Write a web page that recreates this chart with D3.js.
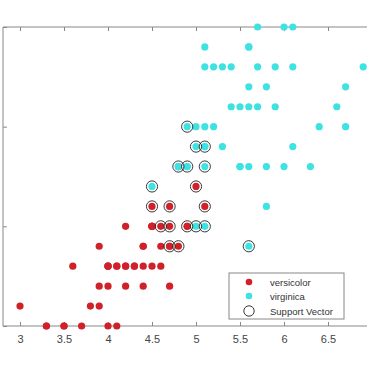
<!DOCTYPE html>
<html><head><meta charset="utf-8">
<script src="https://cdn.jsdelivr.net/npm/d3@7"></script>
<style>body{margin:0;background:#fff;}svg{display:block;}</style>
</head><body>
<script>
const versicolor = [[4.7,1.4],[4.5,1.5],[4.9,1.5],[4.0,1.3],[4.6,1.5],[4.5,1.3],[4.7,1.6],[3.3,1.0],[4.6,1.3],[3.9,1.4],
[3.5,1.0],[4.2,1.5],[4.0,1.0],[4.7,1.4],[3.6,1.3],[4.4,1.4],[4.5,1.5],[4.1,1.0],[4.5,1.5],[3.9,1.1],
[4.8,1.8],[4.0,1.3],[4.9,1.5],[4.7,1.2],[4.3,1.3],[4.4,1.4],[4.8,1.4],[5.0,1.7],[4.5,1.5],[3.5,1.0],
[3.8,1.1],[3.7,1.0],[3.9,1.2],[5.1,1.6],[4.5,1.5],[4.5,1.6],[4.7,1.5],[4.4,1.3],[4.1,1.3],[4.0,1.3],
[4.4,1.2],[4.6,1.4],[4.0,1.2],[3.3,1.0],[4.2,1.3],[4.2,1.2],[4.2,1.3],[4.3,1.3],[3.0,1.1],[4.1,1.3]];
const virginica = [[6.0,2.5],[5.1,1.9],[5.9,2.1],[5.6,1.8],[5.8,2.2],[6.6,2.1],[4.5,1.7],[6.3,1.8],[5.8,1.8],[6.1,2.5],
[5.1,2.0],[5.3,1.9],[5.5,2.1],[5.0,2.0],[5.1,2.4],[5.3,2.3],[5.5,1.8],[6.7,2.2],[6.9,2.3],[5.0,1.5],
[5.7,2.3],[4.9,2.0],[6.7,2.0],[4.9,1.8],[5.7,2.1],[6.0,1.8],[4.8,1.8],[4.9,1.8],[5.6,2.1],[5.8,1.6],
[6.1,1.9],[6.4,2.0],[5.6,2.2],[5.1,1.5],[5.6,1.4],[6.1,2.3],[5.6,2.4],[5.5,1.8],[4.8,1.8],[5.4,2.1],
[5.6,2.4],[5.1,2.3],[5.1,1.9],[5.9,2.3],[5.7,2.5],[5.2,2.3],[5.0,1.9],[5.2,2.0],[5.4,2.3],[5.1,1.8]];
const supportVectors = [[4.5,1.6],[4.7,1.6],[5.1,1.6],[5.0,1.7],[4.6,1.5],[4.7,1.5],[4.9,1.5],[4.7,1.4],[4.8,1.4],[4.8,1.8],
[5.0,1.5],[5.1,1.5],[5.6,1.4],[4.5,1.7],[4.9,1.8],[5.1,1.8],[5.0,1.9],[5.1,1.9],[4.9,2.0]];
const xTicks = [3,3.5,4,4.5,5,5.5,6,6.5];
const yTicks = [1,1.5,2,2.5];
const legendLabels = ["versicolor","virginica","Support Vector"];

(function(){
const W=367,H=367;
const svg=d3.select("body").append("svg").attr("width",W).attr("height",H);
const x=d3.scaleLinear().domain([3,7]).range([20,372]);
const y=d3.scaleLinear().domain([1,2.5]).range([326,27]);
const pLeft=3, pRight=372, pTop=27, pBottom=326;
const axisColor="#888";
const red="#d0212b", cyan="#3fe2e2";

svg.append("line").attr("x1",pLeft).attr("x2",pRight).attr("y1",pBottom).attr("y2",pBottom).attr("stroke",axisColor);
svg.append("line").attr("x1",pLeft).attr("x2",pRight).attr("y1",pTop).attr("y2",pTop).attr("stroke",axisColor);
svg.append("line").attr("x1",pLeft).attr("x2",pLeft).attr("y1",pTop).attr("y2",pBottom).attr("stroke",axisColor);

const gx=svg.append("g").attr("transform",`translate(0,${pBottom})`)
  .call(d3.axisBottom(x).tickValues(xTicks).tickSizeInner(-4).tickSizeOuter(0).tickPadding(9).tickFormat(d3.format("")));
gx.select(".domain").remove();
gx.selectAll("line").attr("stroke",axisColor);
gx.selectAll("text").attr("font-family","Liberation Sans, Arial, sans-serif").attr("font-size","11px").attr("fill","#444");
const gxt=svg.append("g").attr("transform",`translate(0,${pTop})`)
  .call(d3.axisTop(x).tickValues(xTicks).tickSizeInner(-4).tickSizeOuter(0).tickFormat(""));
gxt.select(".domain").remove();
gxt.selectAll("line").attr("stroke",axisColor);
const gy=svg.append("g").attr("transform",`translate(${pLeft},0)`)
  .call(d3.axisLeft(y).tickValues(yTicks).tickSizeInner(-4).tickSizeOuter(0).tickFormat(""));
gy.select(".domain").remove();
gy.selectAll("line").attr("stroke",axisColor);

svg.append("g").selectAll("circle").data(versicolor).join("circle")
  .attr("cx",d=>x(d[0])).attr("cy",d=>y(d[1])).attr("r",3.6).attr("fill",red);
svg.append("g").selectAll("circle").data(virginica).join("circle")
  .attr("cx",d=>x(d[0])).attr("cy",d=>y(d[1])).attr("r",3.6).attr("fill",cyan);
svg.append("g").selectAll("circle").data(supportVectors).join("circle")
  .attr("cx",d=>x(d[0])).attr("cy",d=>y(d[1])).attr("r",5.6).attr("fill","none").attr("stroke","#222").attr("stroke-width",0.9);

const lg=svg.append("g");
lg.append("rect").attr("x",229).attr("y",273).attr("width",115).attr("height",46).attr("fill","#fff").attr("stroke",axisColor);
const ly=[282,296,311];
lg.append("circle").attr("cx",249).attr("cy",ly[0]).attr("r",3.3).attr("fill",red);
lg.append("circle").attr("cx",249).attr("cy",ly[1]).attr("r",3.3).attr("fill",cyan);
lg.append("circle").attr("cx",249).attr("cy",ly[2]).attr("r",5.2).attr("fill","none").attr("stroke","#222").attr("stroke-width",0.9);
lg.selectAll("text").data(legendLabels).join("text")
  .attr("x",270).attr("y",(d,i)=>ly[i]+3.5).text(d=>d)
  .attr("font-family","Liberation Sans, Arial, sans-serif").attr("font-size","9.5px").attr("fill","#333");
})();
</script>
</body></html>
